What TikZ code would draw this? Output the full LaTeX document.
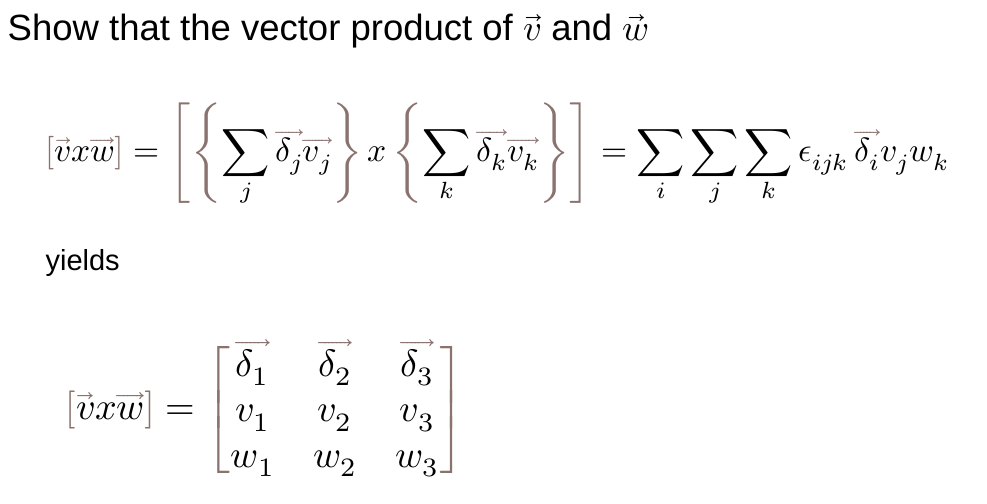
\documentclass[tikz,border=0pt]{standalone}
\usepackage{amsmath}
\usepackage{fontspec}
\setmainfont{Liberation Sans}
\usepackage{unicode-math}
\setmathfont{Latin Modern Math}
\definecolor{br}{HTML}{8A726E}
\newcommand{\vv}[1]{{\color{br}\overrightarrow{\color{black}#1}}}
\tikzset{eq/.style={inner sep=0pt,anchor=west,transform shape}}
\begin{document}
\begin{tikzpicture}[x=1pt,y=1pt]
\useasboundingbox (0,0) rectangle (987,503);
\node[inner sep=0pt,anchor=base west,scale=3.65,transform shape] (title) at (7,462) {Show that the vector product of $\vec{v}$ and $\vec{w}$};
\node[eq,scale=3.35] (eq1) at (45,348) {$\displaystyle\color{br}\left[\color{black}\vv{v}x\vv{w}\color{br}\right]\color{black}
 = \color{br}\left[\left\{\color{black}\sum_j \vv{\delta_j}\vv{v_j}\color{br}\right\}\color{black} x \color{br}\left\{\color{black}\sum_k \vv{\delta_k}\vv{v_k}\color{br}\right\}\right]\color{black}
 = \sum_i\sum_j\sum_k \epsilon_{ijk}\,\vv{\delta_i} v_j w_k$};
\node[inner sep=0pt,anchor=base west,scale=2.9,transform shape] (y) at (45,232) {yields};
\node[eq,scale=3.8] (eq2) at (65,93) {$\displaystyle\color{br}\left[\color{black}\vv{v}x\vv{w}\color{br}\right]\color{black}
 = \color{br}\left[\color{black}\begin{matrix}\vv{\delta_1} & \vv{\delta_2} & \vv{\delta_3}\\ v_1 & v_2 & v_3\\ w_1 & w_2 & w_3\end{matrix}\color{br}\right]$};
\end{tikzpicture}
\end{document}
